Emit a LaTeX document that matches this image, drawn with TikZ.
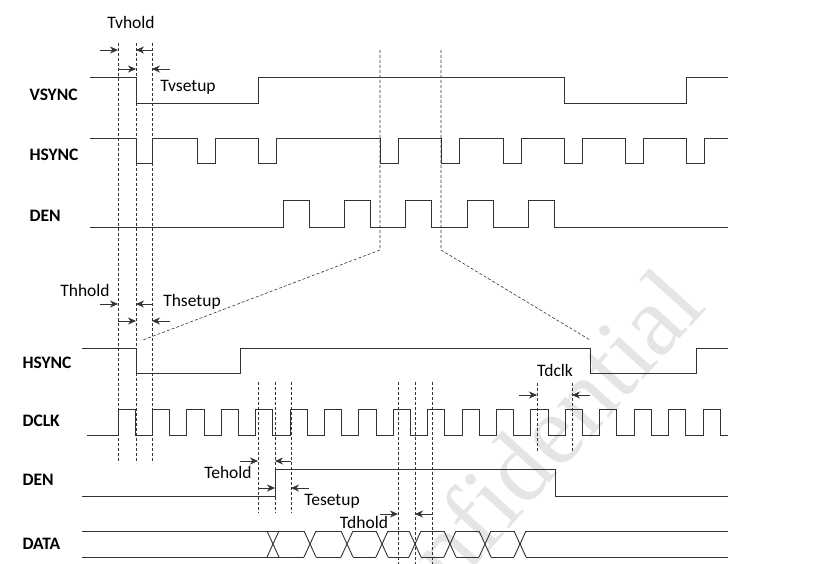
\documentclass[tikz,border=0pt]{standalone}
\usepackage{fontspec}
\setmainfont{Carlito}
\newfontfamily\markfont{Liberation Serif}
\usetikzlibrary{arrows.meta}

\tikzset{
  sig/.style={line width=0.9pt, black!80},
  guide/.style={dashed, line width=0.6pt, black!80, dash pattern=on 3pt off 2pt},
  tmark/.style={-{Stealth[length=8pt,width=7pt]}, line width=0.6pt, black!80},
  lbl/.style={font=\fontsize{17.5}{19}\selectfont\bfseries, anchor=west},
  tlbl/.style={font=\fontsize{17.5}{19}\selectfont},
}

\begin{document}
\begin{tikzpicture}[x=1pt,y=-1pt]
    \useasboundingbox (0,0) rectangle (829,564);

    % watermark
    \begin{scope}
        \clip (0,0) rectangle (829,564);
        \node[rotate=48, text=black!10, font=\fontsize{100}{100}\selectfont\markfont] (mark) at (515,470) {Confidential};
    \end{scope}

    % Signal names
    \node[lbl] (vs) at (26,95) {VSYNC};
    \node[lbl] (hs) at (26,155) {HSYNC};
    \node[lbl] (de) at (26,216) {DEN};
    \node[lbl] (hs2) at (19,363) {HSYNC};
    \node[lbl] (ck) at (19,421) {DCLK};
    \node[lbl] (de2) at (19,480) {DEN};
    \node[lbl] (dt) at (19,544) {DATA};

    % Top waveforms
    \draw[sig] (90,77) -- (136,77) -- (136,103) -- (258,103) -- (258,77) -- (564,77) -- (564,103) -- (686,103) -- (686,77) -- (728,77);
    \draw[sig] (90,138) -- (136,138) -- (136,163) -- (152,163) -- (152,138)
        \foreach \x in {197,258,380,441,503,564,625,686} { -- (\x,138) -- (\x,163) -- (\x+18,163) -- (\x+18,138) } -- (728,138);
    \draw[sig] (90,227)
        \foreach \x in {283,344,405,467,528} { -- (\x,227) -- (\x,200) -- (\x+26,200) -- (\x+26,227) } -- (728,227);

    % Guides
    \foreach \x in {118,136,152}
        \draw[guide] (\x,43) -- (\x,463);
    \draw[guide] (380,50) -- (380,250) -- (143,340);
    \draw[guide] (441,50) -- (441,250) -- (590,340);

    % Vsync timing
    \draw[tmark] (100,50) -- (118,50);
    \draw[tmark] (152,50) -- (136,50);
    \draw[tmark] (118,69) -- (136,69);
    \draw[tmark] (170,69) -- (152,69);
    \node[tlbl] (tvh) at (131,22) {Tvhold};
    \node[tlbl] (tvs) at (188,87) {Tvsetup};

    % Hsync timing
    \draw[tmark] (100,304) -- (118,304);
    \draw[tmark] (152,304) -- (136,304);
    \draw[tmark] (118,321) -- (136,321);
    \draw[tmark] (170,321) -- (152,321);
    \node[tlbl] (thh) at (85,290) {Thhold};
    \node[tlbl] (ths) at (192,302) {Thsetup};

    % Bottom waveforms
    \draw[sig] (82,348) -- (136,348) -- (136,373) -- (240,373) -- (240,348) -- (590,348) -- (590,373) -- (696,373) -- (696,348) -- (728,348);
    \draw[sig] (87,435) \foreach \k in {0,...,16} { -- (118+34.4*\k,435) -- (118+34.4*\k,409) -- (135.2+34.4*\k,409) -- (135.2+34.4*\k,435) } -- (703,435) -- (703,409) -- (720,409) -- (720,435) -- (728,435);
    \draw[sig] (82,496) -- (275,496) -- (275,469) -- (555,469) -- (555,496) -- (728,496);
    \draw[sig] (82,531) -- (267,531);
    \draw[sig] (82,557) -- (267,557);
    \foreach \c [remember=\c as \p (initially 273)] in {273,310,347,382,415,450,485,520} {
        \draw[sig] (\c-6,531) -- (\c+6,557);
        \draw[sig] (\c-6,557) -- (\c+6,531);
        \draw[sig] (\p+6,531) -- (\c-6,531);
        \draw[sig] (\p+6,557) -- (\c-6,557);
    }
    \draw[sig] (526,531) -- (728,531);
    \draw[sig] (526,557) -- (728,557);

    % Data guides
    \foreach \x in {258,275,291}
        \draw[guide] (\x,382) -- (\x,513);
    \foreach \x in {398,415,432}
        \draw[guide] (\x,382) -- (\x,564);
    \foreach \x in {537,572}
        \draw[guide] (\x,383) -- (\x,453);

    % Data timing
    \draw[tmark] (240,461) -- (258,461);
    \draw[tmark] (291,461) -- (275,461);
    \draw[tmark] (258,488) -- (275,488);
    \draw[tmark] (309,488) -- (291,488);
    \draw[tmark] (380,514) -- (398,514);
    \draw[tmark] (432,514) -- (415,514);
    \draw[tmark] (519,395) -- (537,395);
    \draw[tmark] (590,395) -- (572,395);
    \node[tlbl] (teh) at (228,472) {Tehold};
    \node[tlbl] (tes) at (332,501) {Tesetup};
    \node[tlbl] (tdh) at (364,522) {Tdhold};
    \node[tlbl] (tck) at (555,370) {Tdclk};
\end{tikzpicture}
\end{document}
